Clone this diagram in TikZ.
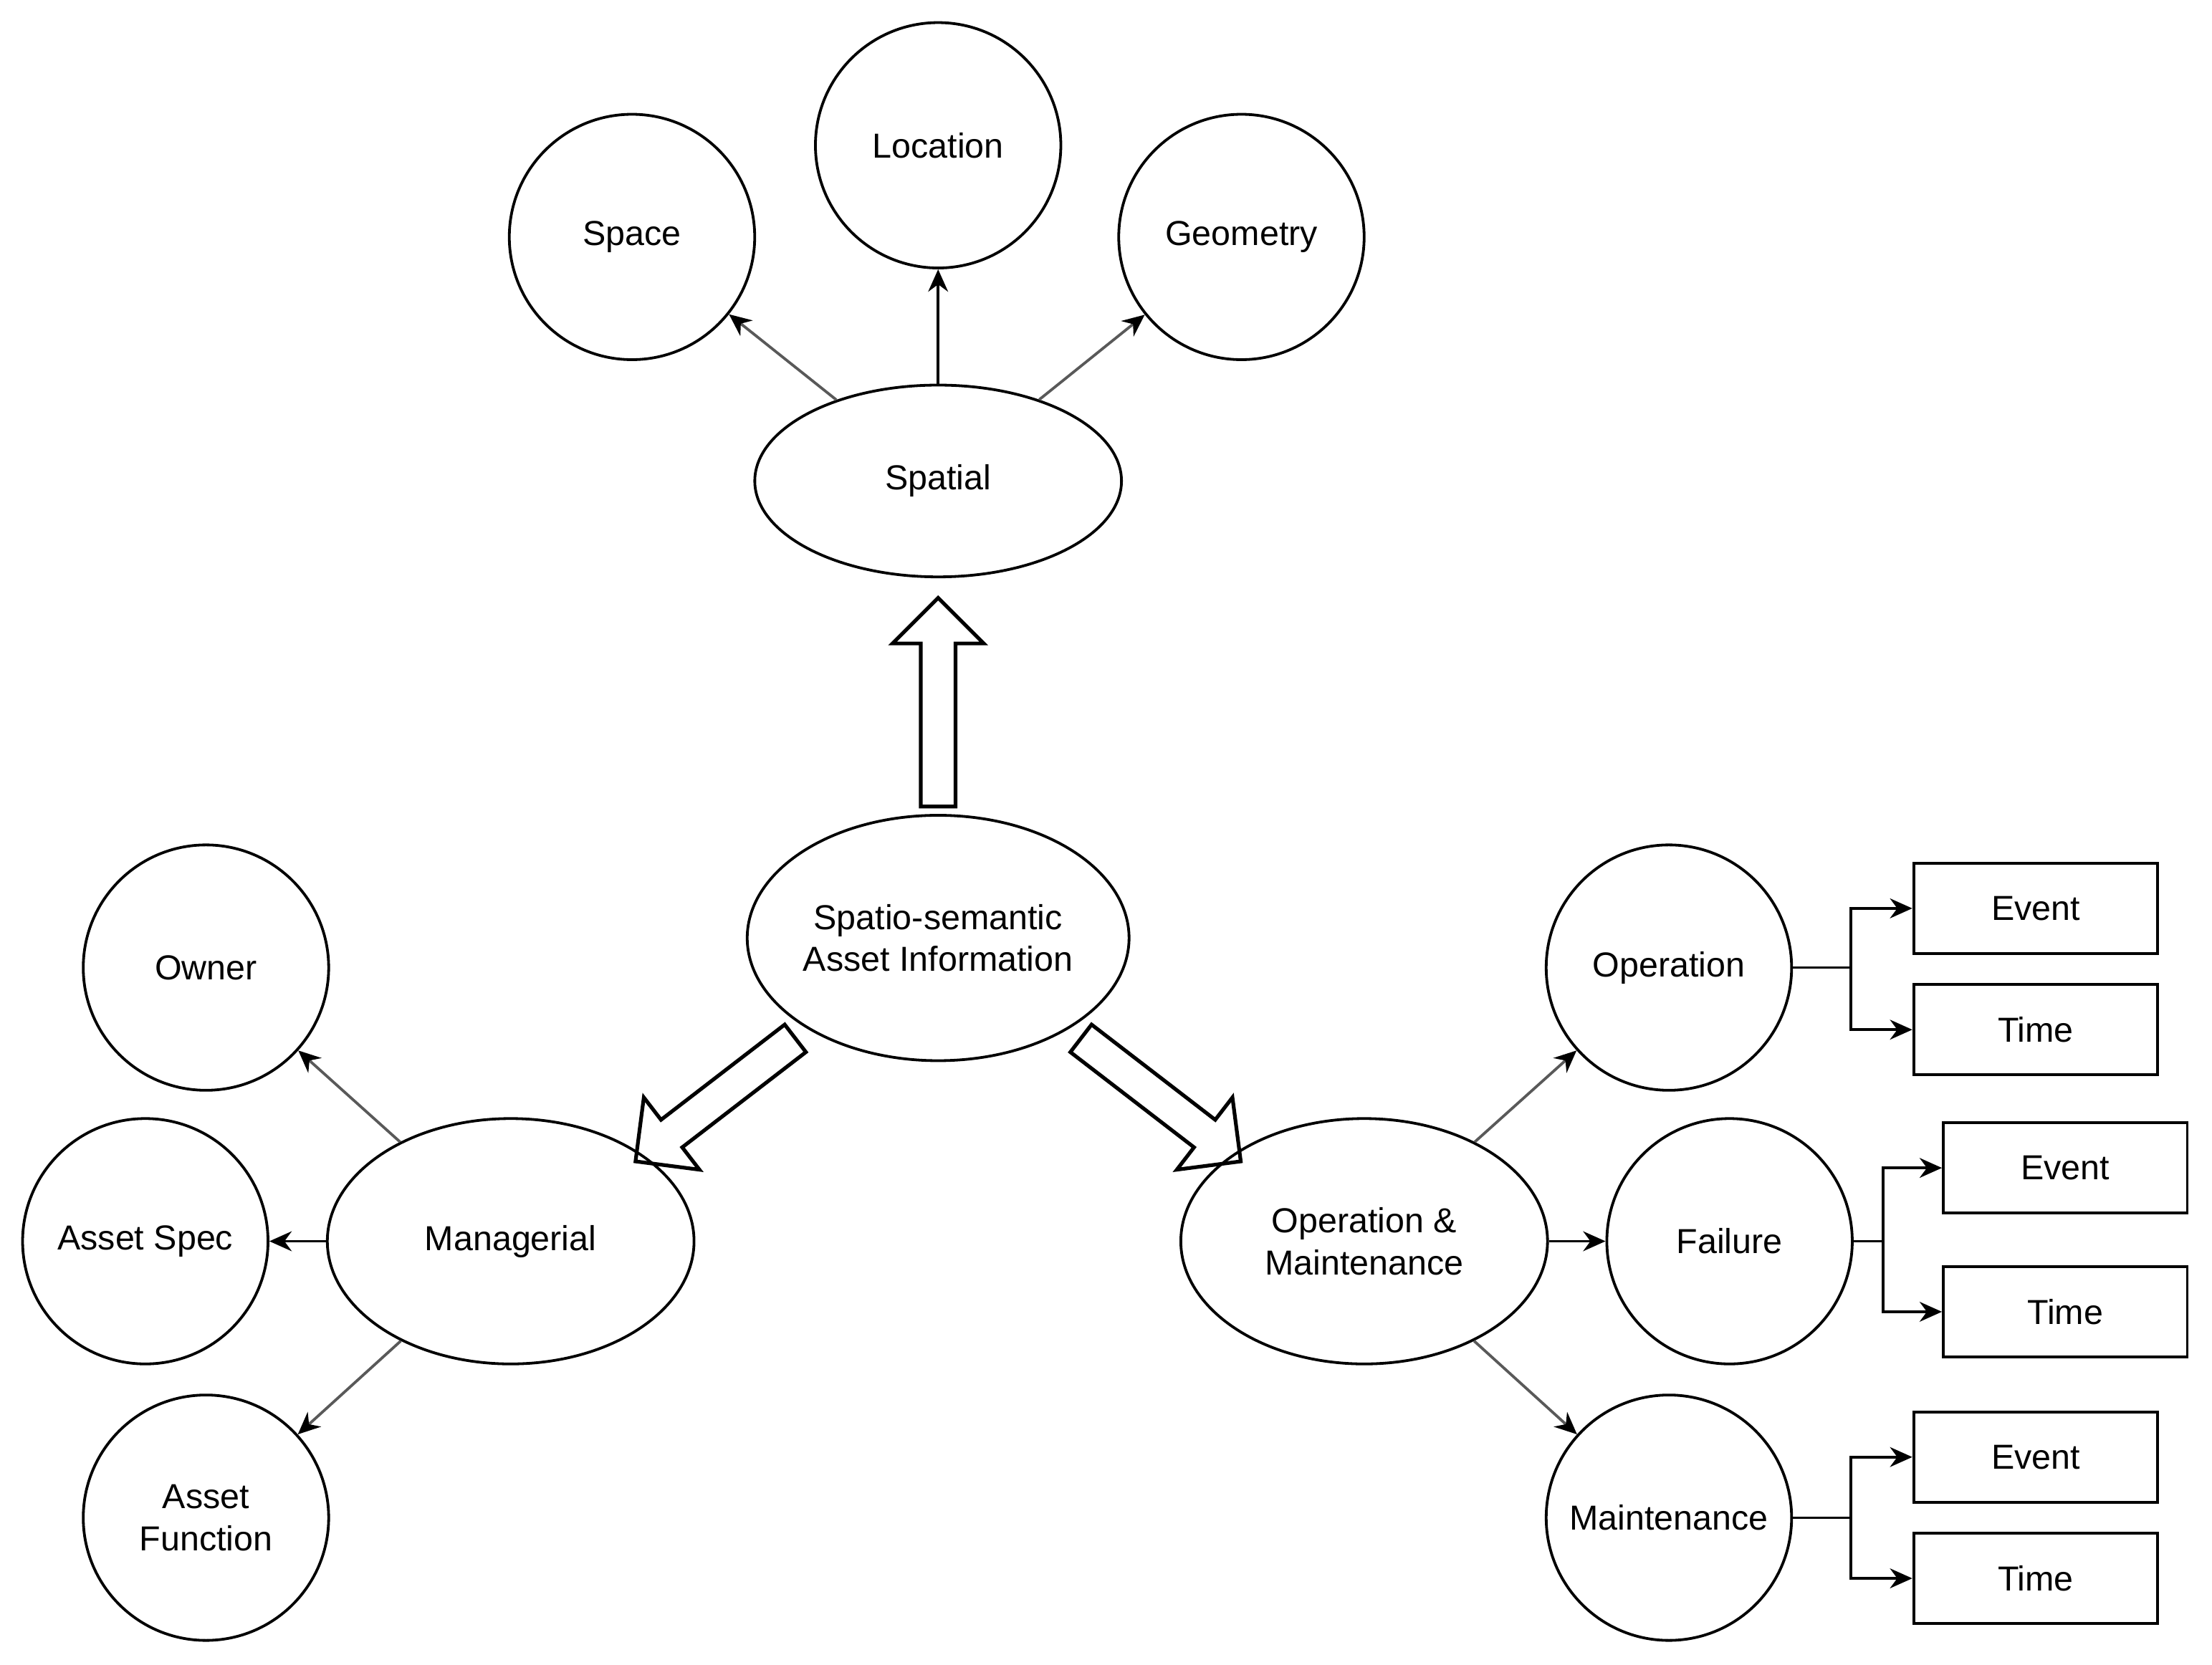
\documentclass[tikz,border=0pt]{standalone}
\usepackage{fontspec}
\setmainfont{Liberation Sans}
\usetikzlibrary{shapes.geometric,shapes.arrows,arrows.meta}
\begin{document}
\begin{tikzpicture}[x=0.02cm,y=-0.02cm,line width=1.1pt,
        font=\fontsize{14}{17}\selectfont,
        circ/.style={circle,draw,minimum size=3.48cm,inner sep=0pt,align=center},
        ell/.style={ellipse,draw,minimum width=5.2cm,minimum height=3.48cm,inner sep=0pt,align=center},
        sp/.style={ellipse,draw,minimum width=5.2cm,minimum height=2.72cm,inner sep=0pt},
        box/.style={rectangle,draw,minimum width=3.46cm,minimum height=1.28cm},
        lnk/.style={draw=black!65,-{Stealth[black,length=9pt,width=8pt]}},
        tip/.style={-{Stealth[length=9pt,width=8pt]}},
        big/.style={single arrow,draw,inner sep=0.22cm,single arrow head extend=0.4cm,
                single arrow tip angle=90,line width=1.5pt}]
        \useasboundingbox (0,0) rectangle (1568,1180);
        % spatial branch
        \node[circ] (loc) at (665,103) {Location};
        \node[circ] (space) at (448,168) {Space};
        \node[circ] (geom) at (880,168) {Geometry};
        \node[sp] (spatial) at (665,341) {Spatial};
        \node[ell] (core) at (665,665) {Spatio-semantic\\Asset Information};
        \draw[lnk] (spatial) -- (space);
        \draw[tip] (spatial) -- (loc);
        \draw[lnk] (spatial) -- (geom);
        % managerial branch
        \node[ell] (mgr) at (362,880) {Managerial};
        \node[circ] (owner) at (146,686) {Owner};
        \node[circ] (spec) at (103,880) {Asset Spec};
        \node[circ] (func) at (146,1076) {Asset\\Function};
        \draw[lnk] (mgr) -- (owner);
        \draw[tip] (mgr) -- (spec);
        \draw[lnk] (mgr) -- (func);
        % operation and maintenance branch
        \node[ell] (om) at (967,880) {Operation \&\\Maintenance};
        \node[circ] (oper) at (1183,686) {Operation};
        \node[circ] (fail) at (1226,880) {Failure};
        \node[circ] (maint) at (1183,1076) {Maintenance};
        \draw[lnk] (om) -- (oper);
        \draw[tip] (om) -- (fail);
        \draw[lnk] (om) -- (maint);
        \node[box] (operev) at (1443,644) {Event};
        \node[box] (opertm) at (1443,730) {Time};
        \node[box] (failev) at (1464,828) {Event};
        \node[box] (failtm) at (1464,930) {Time};
        \node[box] (maintev) at (1443,1033) {Event};
        \node[box] (mainttm) at (1443,1119) {Time};
        \coordinate (operj) at (1312,686);
        \coordinate (failj) at (1335,880);
        \coordinate (maintj) at (1312,1076);
        \draw (oper) -- (operj);
        \draw[tip] (operj) |- (operev);
        \draw[tip] (operj) |- (opertm);
        \draw (fail) -- (failj);
        \draw[tip] (failj) |- (failev);
        \draw[tip] (failj) |- (failtm);
        \draw (maint) -- (maintj);
        \draw[tip] (maintj) |- (maintev);
        \draw[tip] (maintj) |- (mainttm);
        % hollow arrows
        \node[big,minimum height=2.96cm,rotate=90] (up) at (665,504) {};
        \node[big,minimum height=2.86cm,rotate=217.6] (left) at (512,776) {};
        \node[big,minimum height=2.86cm,rotate=-37.6] (right) at (818,776) {};
\end{tikzpicture}
\end{document}
